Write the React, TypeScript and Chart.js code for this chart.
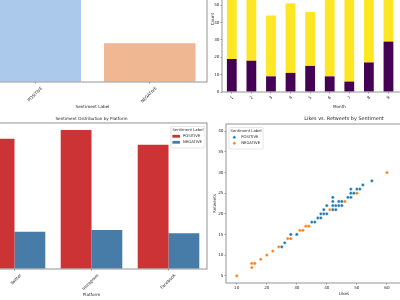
import React, { useEffect, useRef } from "react";
import { Chart, registerables } from "chart.js";

Chart.register(...registerables);

const FONT = '"DejaVu Sans", sans-serif';
const INK = "#262626";
const SPINE = "#7a7a7a";
const TICK_SIZE = 4.15;
const LEGEND_SIZE = 3.8;

// Overall sentiment counts
const sentimentLabels = ["POSITIVE", "NEGATIVE"];
const sentimentCounts = [453, 136];
const sentimentColors = ["#abc9ea", "#efb792"];

// Posts per month, split by sentiment
const months = ["1", "2", "3", "4", "5", "6", "7", "8", "9", "10", "11", "12"];
const monthlyNegative = [19, 18, 9, 11, 15, 9, 6, 17, 29, 14, 12, 16];
const monthlyPositive = [47, 44, 35, 40, 31, 62, 52, 47, 51, 43, 37, 38];
const monthTicks = [0, 10, 20, 30, 40, 50, 60, 70, 80];

// Sentiment per platform
const platforms = ["Twitter", "Instagram", "Facebook"];
const platformPositive = [150, 160, 143];
const platformNegative = [43, 45, 41];

// Likes and retweets per post
const positiveLikes = [25, 26, 28, 30, 35, 36, 37, 38, 38, 39, 40, 39, 42, 43, 40, 42, 43, 44, 45, 42, 44, 45, 42, 47, 48, 48, 49, 48, 50, 51, 52, 55];
const positiveRetweets = [12, 13, 15, 15, 18, 18, 19, 19, 20, 20, 20, 21, 21, 21, 22, 22, 22, 22, 22, 23, 23, 23, 24, 24, 24, 25, 25, 26, 26, 26, 27, 28];
const negativeLikes = [10, 15, 15, 16, 18, 20, 22, 24, 27, 28, 31, 32, 33, 34, 41, 46, 50, 60];
const negativeRetweets = [5, 7, 8, 8, 9, 10, 11, 12, 14, 14, 16, 16, 17, 17, 21, 23, 25, 30];
const likeTicks = [10, 20, 30, 40, 50, 60, 70, 80];
const retweetTicks = [5, 10, 15, 20, 25, 30, 35, 40];

const POS_RED = "#cb3335";
const NEG_BLUE = "#477ca8";
const DOT_BLUE = "#1f77b4";
const DOT_ORANGE = "#ff7f0e";
const VIRIDIS_DARK = "#440154";
const VIRIDIS_LIGHT = "#fde725";

// Give an axis a fixed thickness so every plot area lands where it should.
const fixed = (size: number) => (scale: any) => {
  if (scale.isHorizontal()) scale.height = size;
  else scale.width = size;
  scale.paddingLeft = 0;
  scale.paddingRight = 0;
  scale.paddingTop = 0;
  scale.paddingBottom = 0;
};
const tickValues = (values: number[]) => (scale: any) => {
  scale.ticks = values.map((value) => ({ value }));
};

const tickFont = { family: FONT, size: TICK_SIZE };
const axisGrid = {
  display: true,
  drawOnChartArea: false,
  drawTicks: true,
  tickLength: 1.5,
  tickWidth: 0.7,
  tickColor: SPINE,
  color: SPINE,
  offset: false,
};
const axisTitle = (text: string, padding: any) => ({
  display: true,
  text,
  color: INK,
  font: { family: FONT, size: TICK_SIZE },
  padding,
});

// Box around the plot area, like axes spines.
const framePlugin = {
  id: "frame",
  afterDatasetsDraw(chart: any) {
    const { ctx, chartArea: a } = chart;
    ctx.save();
    ctx.strokeStyle = SPINE;
    ctx.lineWidth = 0.8;
    ctx.strokeRect(a.left, a.top, a.right - a.left, a.bottom - a.top);
    ctx.restore();
  },
};

type LegendEntry = { label: string; color: string; shape: "rect" | "dot" };

// Framed legend with a title, placed inside the plot area.
function boxLegend(title: string, entries: LegendEntry[], corner: "left" | "right") {
  return {
    id: "boxLegend",
    afterDraw(chart: any) {
      const { ctx, chartArea: a } = chart;
      const fs = LEGEND_SIZE;
      const pad = 0.4 * fs;
      const handleW = 2 * fs;
      const textGap = 0.8 * fs;
      ctx.save();
      ctx.font = `${fs}px ${FONT}`;
      const titleW = ctx.measureText(title).width;
      const entryW = Math.max(...entries.map((e) => ctx.measureText(e.label).width)) + handleW + textGap;
      const w = Math.max(titleW, entryW) + 2 * pad;
      const h = 21.5;
      const x = corner === "left" ? a.left + 3 : a.right - 2 - w;
      const y = a.top + 3.5;
      ctx.fillStyle = "rgba(255,255,255,0.85)";
      ctx.strokeStyle = "#cccccc";
      ctx.lineWidth = 0.5;
      ctx.beginPath();
      ctx.roundRect(x, y, w, h, 1);
      ctx.fill();
      ctx.stroke();
      ctx.fillStyle = INK;
      ctx.textBaseline = "middle";
      ctx.textAlign = "center";
      ctx.fillText(title, x + w / 2, y + 3.3);
      ctx.textAlign = "left";
      entries.forEach((e, i) => {
        const cy = y + 9.8 + i * 6;
        const hx = x + pad;
        if (e.shape === "rect") {
          ctx.fillStyle = e.color;
          ctx.fillRect(hx, cy - 1.4, handleW, 2.8);
        } else {
          ctx.beginPath();
          ctx.arc(hx + handleW / 2, cy, 1.5, 0, Math.PI * 2);
          ctx.fillStyle = e.color;
          ctx.fill();
          ctx.strokeStyle = "#ffffff";
          ctx.lineWidth = 0.4;
          ctx.stroke();
        }
        ctx.fillStyle = INK;
        ctx.fillText(e.label, hx + handleW + textGap, cy);
      });
      ctx.restore();
    },
  };
}

const baseOptions = {
  responsive: false,
  maintainAspectRatio: false,
  animation: false as const,
  devicePixelRatio: 1,
  events: [] as any[],
};

function sentimentConfig(): any {
  return {
    type: "bar",
    data: {
      labels: sentimentLabels,
      datasets: [
        {
          data: sentimentCounts,
          backgroundColor: sentimentColors,
          categoryPercentage: 0.8,
          barPercentage: 1,
        },
      ],
    },
    options: {
      ...baseOptions,
      layout: { padding: { left: 0, top: 0, right: 2, bottom: 0 } },
      plugins: { legend: { display: false }, tooltip: { enabled: false }, title: { display: false } },
      scales: {
        x: {
          type: "category",
          offset: true,
          grid: axisGrid,
          border: { display: false },
          ticks: {
            color: INK,
            font: tickFont,
            minRotation: 45,
            maxRotation: 45,
            autoSkip: false,
            padding: 2.5,
            labelOffset: 6.6,
          },
          title: axisTitle("Sentiment Label", { top: 0, bottom: 0.5 }),
          afterFit: fixed(28),
        },
        y: {
          min: 0,
          max: 476,
          grid: axisGrid,
          border: { display: false },
          ticks: { color: INK, font: tickFont, padding: 1 },
          title: axisTitle("Count", { top: 0, bottom: 0 }),
          afterFit: fixed(30),
        },
      },
    },
    plugins: [framePlugin],
  };
}

function monthlyConfig(): any {
  return {
    type: "bar",
    data: {
      labels: months,
      datasets: [
        {
          label: "NEGATIVE",
          data: monthlyNegative,
          backgroundColor: VIRIDIS_DARK,
          categoryPercentage: 1,
          barPercentage: 0.5,
        },
        {
          label: "POSITIVE",
          data: monthlyPositive,
          backgroundColor: VIRIDIS_LIGHT,
          categoryPercentage: 1,
          barPercentage: 0.5,
        },
      ],
    },
    options: {
      ...baseOptions,
      layout: { padding: { left: 0, top: 0, right: 5, bottom: 0 } },
      plugins: { legend: { display: false }, tooltip: { enabled: false }, title: { display: false } },
      scales: {
        x: {
          type: "category",
          stacked: true,
          offset: true,
          grid: axisGrid,
          border: { display: false },
          ticks: {
            color: INK,
            font: tickFont,
            minRotation: 45,
            maxRotation: 45,
            autoSkip: false,
            padding: 1.5,
            labelOffset: 1,
          },
          title: axisTitle("Month", { top: 0, bottom: 0.5 }),
          afterFit: fixed(18),
        },
        y: {
          stacked: true,
          min: 0,
          max: 84,
          grid: axisGrid,
          border: { display: false },
          afterBuildTicks: tickValues(monthTicks),
          ticks: { color: INK, font: tickFont, padding: 1 },
          title: axisTitle("Count", { top: 0, bottom: 0 }),
          afterFit: fixed(12),
        },
      },
    },
    plugins: [framePlugin],
  };
}

function platformConfig(): any {
  return {
    type: "bar",
    data: {
      labels: platforms,
      datasets: [
        {
          label: "POSITIVE",
          data: platformPositive,
          backgroundColor: POS_RED,
          categoryPercentage: 0.8,
          barPercentage: 1,
        },
        {
          label: "NEGATIVE",
          data: platformNegative,
          backgroundColor: NEG_BLUE,
          categoryPercentage: 0.8,
          barPercentage: 1,
        },
      ],
    },
    options: {
      ...baseOptions,
      layout: { padding: { left: 0, top: 0, right: 2, bottom: 0 } },
      plugins: {
        legend: { display: false },
        tooltip: { enabled: false },
        title: {
          display: true,
          text: "Sentiment Distribution by Platform",
          color: INK,
          font: { family: FONT, size: 4.15, weight: "normal" },
          padding: { top: 2.5, bottom: 1.5 },
          fullSize: false,
        },
      },
      scales: {
        x: {
          type: "category",
          offset: true,
          grid: axisGrid,
          border: { display: false },
          ticks: {
            color: INK,
            font: tickFont,
            minRotation: 45,
            maxRotation: 45,
            autoSkip: false,
            padding: 2.5,
            labelOffset: 6.5,
          },
          title: axisTitle("Platform", { top: 0, bottom: 0.5 }),
          afterFit: fixed(29),
        },
        y: {
          min: 0,
          max: 168,
          grid: axisGrid,
          border: { display: false },
          ticks: { color: INK, font: tickFont, padding: 1 },
          title: axisTitle("Count", { top: 0, bottom: 0 }),
          afterFit: fixed(30),
        },
      },
    },
    plugins: [
      framePlugin,
      boxLegend(
        "Sentiment Label",
        [
          { label: "POSITIVE", color: POS_RED, shape: "rect" },
          { label: "NEGATIVE", color: NEG_BLUE, shape: "rect" },
        ],
        "right"
      ),
    ],
  };
}

function engagementConfig(): any {
  const toPoints = (xs: number[], ys: number[]) => xs.map((x, i) => ({ x, y: ys[i] }));
  return {
    type: "scatter",
    data: {
      datasets: [
        {
          label: "POSITIVE",
          data: toPoints(positiveLikes, positiveRetweets),
          backgroundColor: DOT_BLUE,
          borderColor: "#ffffff",
          borderWidth: 0.4,
          pointRadius: 1.6,
        },
        {
          label: "NEGATIVE",
          data: toPoints(negativeLikes, negativeRetweets),
          backgroundColor: DOT_ORANGE,
          borderColor: "#ffffff",
          borderWidth: 0.4,
          pointRadius: 1.6,
        },
      ],
    },
    options: {
      ...baseOptions,
      layout: { padding: { left: 0, top: 0, right: 10, bottom: 0 } },
      plugins: {
        legend: { display: false },
        tooltip: { enabled: false },
        title: {
          display: true,
          text: "Likes vs. Retweets by Sentiment",
          color: INK,
          font: { family: FONT, size: 4.9, weight: "normal" },
          padding: { top: 2, bottom: 2.12 },
          fullSize: false,
        },
      },
      scales: {
        x: {
          type: "linear",
          min: 6.43,
          max: 85,
          grid: axisGrid,
          border: { display: false },
          afterBuildTicks: tickValues(likeTicks),
          ticks: { color: INK, font: tickFont, maxRotation: 0, autoSkip: false, padding: 1 },
          title: axisTitle("Likes", { top: 0, bottom: 0.5 }),
          afterFit: fixed(14),
        },
        y: {
          type: "linear",
          min: 3.25,
          max: 41.75,
          grid: axisGrid,
          border: { display: false },
          afterBuildTicks: tickValues(retweetTicks),
          ticks: { color: INK, font: tickFont, padding: 1 },
          title: axisTitle("Retweets", { top: 0, bottom: 0 }),
          afterFit: fixed(14),
        },
      },
    },
    plugins: [
      framePlugin,
      boxLegend(
        "Sentiment Label",
        [
          { label: "POSITIVE", color: DOT_BLUE, shape: "dot" },
          { label: "NEGATIVE", color: DOT_ORANGE, shape: "dot" },
        ],
        "left"
      ),
    ],
  };
}

type Placement = { left: number; top: number; width: number; height: number };

function ChartCanvas({ place, build }: { place: Placement; build: () => any }) {
  const ref = useRef<HTMLCanvasElement | null>(null);
  useEffect(() => {
    if (!ref.current) return;
    const chart = new Chart(ref.current, build());
    return () => chart.destroy();
  }, [build]);
  return (
    <div style={{ position: "absolute", left: place.left, top: place.top, width: place.width, height: place.height }}>
      <canvas
        ref={ref}
        width={place.width}
        height={place.height}
        style={{ display: "block", width: place.width, height: place.height }}
      />
    </div>
  );
}

export default function App() {
  return (
    <div
      style={{
        position: "fixed",
        left: 0,
        top: 0,
        width: 400,
        height: 300,
        overflow: "hidden",
        background: "#ffffff",
      }}
    >
      <ChartCanvas place={{ left: -52, top: -54, width: 261, height: 164 }} build={sentimentConfig} />
      <ChartCanvas place={{ left: 210, top: -54, width: 252, height: 164 }} build={monthlyConfig} />
      <ChartCanvas place={{ left: -54, top: 114, width: 263, height: 184 }} build={platformConfig} />
      <ChartCanvas place={{ left: 212, top: 114, width: 260, height: 183 }} build={engagementConfig} />
    </div>
  );
}
